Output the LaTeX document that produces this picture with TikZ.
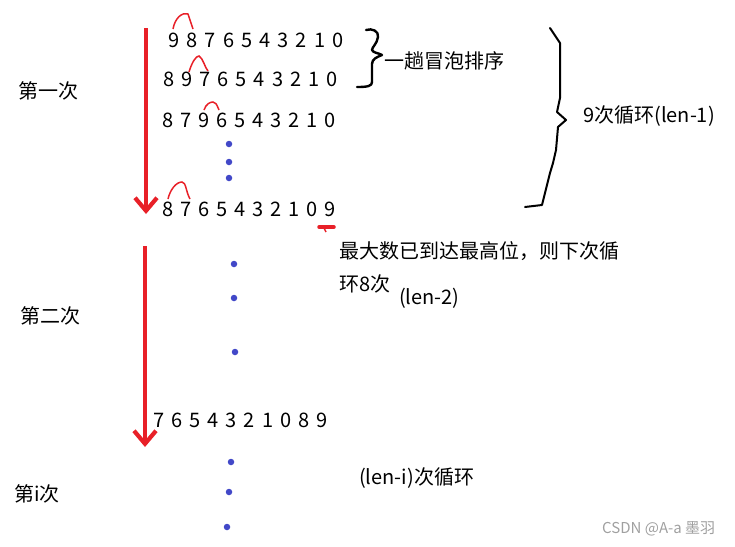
\documentclass[tikz,border=0pt]{standalone}
\usepackage{fontspec}
\setmainfont{Noto Sans CJK SC}
\usetikzlibrary{arrows.meta}
\definecolor{redpen}{RGB}{232,32,40}
\definecolor{dotblue}{RGB}{66,72,200}
\definecolor{wm}{RGB}{160,160,160}
\tikzset{
  dig/.style={inner sep=0pt, font=\fontsize{20}{22}\selectfont},
  lbl/.style={inner sep=0pt, anchor=west, font=\fontsize{20}{22}\selectfont},
  redarrow/.style={draw=redpen, line width=4.2pt, -{Straight Barb[length=13pt,width=22pt]}},
  swap/.style={draw=redpen, line width=1.5pt},
  brace/.style={draw=black, line width=2.4pt, line join=round, line cap=round},
  bdot/.style={circle, fill=dotblue, inner sep=0pt, minimum size=6.5pt}
}
\begin{document}
\begin{tikzpicture}[x=1pt,y=-1pt]
\useasboundingbox (0,0) rectangle (735,546);
% number rows
\foreach \d [count=\i] in {9,8,7,6,5,4,3,2,1,0}
  \node[dig] (a\i) at ({174+(\i-1)*18.2},40) {\d};
\foreach \d [count=\i] in {8,9,7,6,5,4,3,2,1,0}
  \node[dig] (b\i) at ({169+(\i-1)*18.1},79) {\d};
\foreach \d [count=\i] in {8,7,9,6,5,4,3,2,1,0}
  \node[dig] (c\i) at ({168+(\i-1)*18.0},120) {\d};
\foreach \d [count=\i] in {8,7,6,5,4,3,2,1,0,9}
  \node[dig] (d\i) at ({168+(\i-1)*18.0},209) {\d};
\foreach \d [count=\i] in {7,6,5,4,3,2,1,0,8,9}
  \node[dig] (e\i) at ({159+(\i-1)*18.1},420) {\d};
% red swap marks
\draw[swap] (173,29) .. controls (175,18) and (182,12) .. (188,14) .. controls (190,20) .. (193,29);
\draw[swap] (189,72) .. controls (192,62) and (196,56) .. (199,56) .. controls (203,58) and (205,68) .. (208,71);
\draw[swap] (204,110) .. controls (206,104) and (210,102) .. (213,102) .. controls (216,103) .. (219,110);
\draw[swap] (168,199) .. controls (170,190) and (176,182) .. (182,182) .. controls (186,182) and (186,192) .. (190,199);
\draw[draw=redpen, line width=3.5pt, line cap=round] (319,227) -- (334,227);
\draw[draw=redpen, line width=1.5pt] (324,228) -- (326,232);
% red arrows
\coordinate (s1) at (146,28);
\coordinate (t1) at (146,214);
\coordinate (s2) at (145,246);
\coordinate (t2) at (145,447);
\draw[redarrow] (s1) -- (t1);
\draw[redarrow] (s2) -- (t2);
% blue dots
\node[bdot] (p1) at (229,144) {};
\node[bdot] (p2) at (229,162) {};
\node[bdot] (p3) at (229,178) {};
\node[bdot] (q1) at (234,264) {};
\node[bdot] (q2) at (234,298) {};
\node[bdot] (q3) at (235,352) {};
\node[bdot] (u1) at (231,462) {};
\node[bdot] (u2) at (229,492) {};
\node[bdot] (u3) at (227,527) {};
% small brace
\draw[brace] (366,30) .. controls (372,28) and (379,31) .. (378,37) .. controls (377,44) and (372,47) .. (372,50)
  .. controls (373,53) and (379,53) .. (382,55) .. controls (377,57) and (372,59) .. (372,64)
  -- (372,82) .. controls (372,86) and (368,87) .. (357,87);
% big brace
\draw[brace, line width=2pt] (550,28) -- (560,43) -- (560,98) -- (557,112) -- (566,120) -- (558,127) -- (556,150) -- (553,163) -- (550,173) -- (542,205) -- (525,207);
% labels
\node[lbl] (t9) at (384,61) {一趟冒泡排序};
\node[lbl] (l1) at (583,116) {9次循环(len-1)};
\node[lbl] (m1) at (339,251) {最大数已到达最高位，则下次循};
\node[lbl] (m2) at (339,284) {环8次};
\node[lbl] (m3) at (399,298) {(len-2)};
\node[lbl] (m4) at (359,478) {(len-i)次循环};
\node[lbl] (k1) at (18,91) {第一次};
\node[lbl] (k2) at (20,316) {第二次};
\node[lbl] (k3) at (14,494) {第i次};
\node[lbl, text=wm, font=\fontsize{15}{17}\selectfont] (wmk) at (602,529) {CSDN @A-a 墨羽};
\end{tikzpicture}
\end{document}
